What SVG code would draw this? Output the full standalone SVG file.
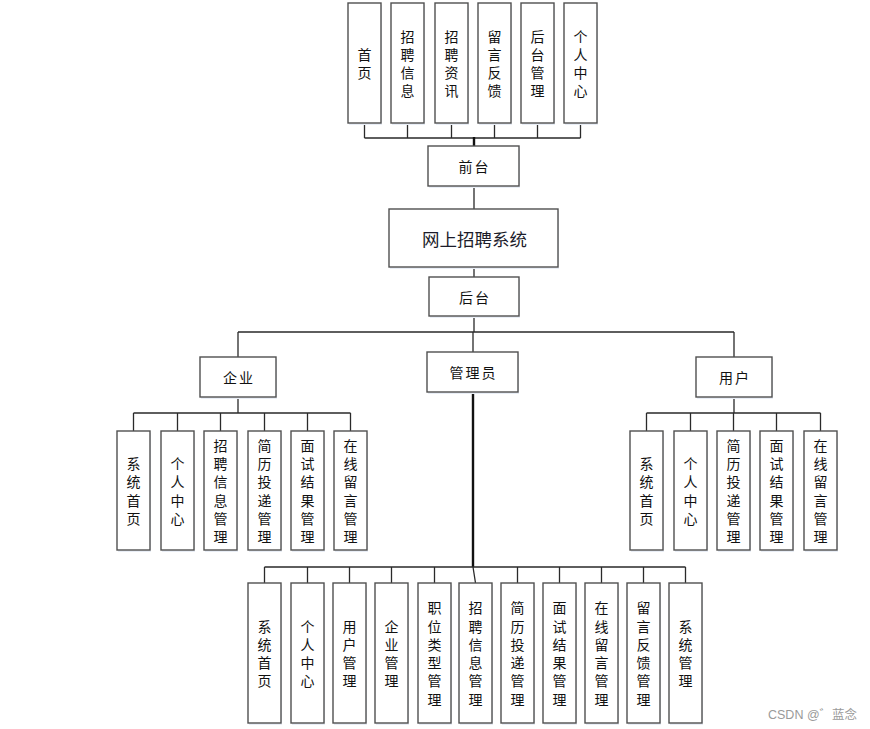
<svg xmlns="http://www.w3.org/2000/svg" width="870" height="729" viewBox="0 0 870 729">
<style>
.box{fill:#fff;stroke:#505050;stroke-width:1.4}
.sh{fill:#e9eef6}
.t{font-family:"Noto Sans CJK SC","Liberation Sans",sans-serif;font-size:14px;fill:#111;text-anchor:middle;dominant-baseline:central}
.h{letter-spacing:2px}
.ln{fill:none;stroke:#2a2a2a;stroke-width:1.3}
.thk{fill:none;stroke:#111;stroke-width:2.4}
</style>
<rect width="870" height="729" fill="#fff"/>
<g id="connectors">
<path class="ln" d="M364.5 123V138M407.5 123V138M451.5 123V138M494.5 123V138M537.5 123V138M580.5 123V138M364.5 138H580.5"/>
<path class="thk" d="M474 137V146"/>
<path class="ln" d="M474 186V209M474 267V277M474 316V332M238 332H734M238 332V357M734 332V357M473 332V352"/>
<path class="ln" d="M238 397V413M133.5 413H350.5M133.5 413V431M177.5 413V431M220.5 413V431M264.5 413V431M307.5 413V431M350.5 413V431"/>
<path class="ln" d="M734 397V413M646.5 413H820.5M646.5 413V431M690.5 413V431M733.5 413V431M776.5 413V431M820.5 413V431"/>
<path class="thk" d="M473 392V567"/>
<path class="ln" d="M264.5 567H685.5M264.5 567V583M307.5 567V583M349.5 567V583M391.5 567V583M434.5 567V583M473 567L475.5 583M517.5 567V583M559.5 567V583M601.5 567V583M643.5 567V583M685.5 567V583"/>
</g>
<g id="top-shouye"><rect class="sh" x="349" y="5" width="33" height="120"/><rect class="box" x="348" y="3" width="33" height="120"/><text class="t"><tspan x="364.5" y="53.85">首</tspan><tspan x="364.5" y="72.15">页</tspan></text></g>
<g id="top-zpxx"><rect class="sh" x="392" y="5" width="33" height="120"/><rect class="box" x="391" y="3" width="33" height="120"/><text class="t"><tspan x="407.5" y="35.55">招</tspan><tspan x="407.5" y="53.85">聘</tspan><tspan x="407.5" y="72.15">信</tspan><tspan x="407.5" y="90.45">息</tspan></text></g>
<g id="top-zpzx"><rect class="sh" x="436" y="5" width="33" height="120"/><rect class="box" x="435" y="3" width="33" height="120"/><text class="t"><tspan x="451.5" y="35.55">招</tspan><tspan x="451.5" y="53.85">聘</tspan><tspan x="451.5" y="72.15">资</tspan><tspan x="451.5" y="90.45">讯</tspan></text></g>
<g id="top-lyfk"><rect class="sh" x="479" y="5" width="33" height="120"/><rect class="box" x="478" y="3" width="33" height="120"/><text class="t"><tspan x="494.5" y="35.55">留</tspan><tspan x="494.5" y="53.85">言</tspan><tspan x="494.5" y="72.15">反</tspan><tspan x="494.5" y="90.45">馈</tspan></text></g>
<g id="top-htgl"><rect class="sh" x="522" y="5" width="33" height="120"/><rect class="box" x="521" y="3" width="33" height="120"/><text class="t"><tspan x="537.5" y="35.55">后</tspan><tspan x="537.5" y="53.85">台</tspan><tspan x="537.5" y="72.15">管</tspan><tspan x="537.5" y="90.45">理</tspan></text></g>
<g id="top-grzx"><rect class="sh" x="565" y="5" width="33" height="120"/><rect class="box" x="564" y="3" width="33" height="120"/><text class="t"><tspan x="580.5" y="35.55">个</tspan><tspan x="580.5" y="53.85">人</tspan><tspan x="580.5" y="72.15">中</tspan><tspan x="580.5" y="90.45">心</tspan></text></g>
<g id="qiantai"><rect class="sh" x="429" y="148" width="91" height="40"/><rect class="box" x="428" y="146" width="91" height="40"/><text class="t h" x="474.5" y="166">前台</text></g>
<g id="system"><rect class="sh" x="390" y="211" width="169" height="58"/><rect class="box" x="389" y="209" width="169" height="58"/><text class="t" x="474.5" y="238" style="font-size:17.5px;fill:#1c1c2a">网上招聘系统</text></g>
<g id="houtai"><rect class="sh" x="430" y="279" width="90" height="39"/><rect class="box" x="429" y="277" width="90" height="39"/><text class="t h" x="475" y="296.5">后台</text></g>
<g id="qiye"><rect class="sh" x="201" y="359" width="76" height="40"/><rect class="box" x="200" y="357" width="76" height="40"/><text class="t h" x="239" y="377">企业</text></g>
<g id="guanliyuan"><rect class="sh" x="428" y="354" width="91" height="40"/><rect class="box" x="427" y="352" width="91" height="40"/><text class="t h" x="473.5" y="372">管理员</text></g>
<g id="yonghu"><rect class="sh" x="697" y="359" width="76" height="40"/><rect class="box" x="696" y="357" width="76" height="40"/><text class="t h" x="735" y="377">用户</text></g>
<g id="qy-xtsy"><rect class="sh" x="118" y="433" width="33" height="119"/><rect class="box" x="117" y="431" width="33" height="119"/><text class="t"><tspan x="133.5" y="463">系</tspan><tspan x="133.5" y="481.3">统</tspan><tspan x="133.5" y="499.6">首</tspan><tspan x="133.5" y="517.9">页</tspan></text></g>
<g id="qy-grzx"><rect class="sh" x="162" y="433" width="33" height="119"/><rect class="box" x="161" y="431" width="33" height="119"/><text class="t"><tspan x="177.5" y="463">个</tspan><tspan x="177.5" y="481.3">人</tspan><tspan x="177.5" y="499.6">中</tspan><tspan x="177.5" y="517.9">心</tspan></text></g>
<g id="qy-zpxxgl"><rect class="sh" x="205" y="433" width="33" height="119"/><rect class="box" x="204" y="431" width="33" height="119"/><text class="t"><tspan x="220.5" y="444.75">招</tspan><tspan x="220.5" y="463.05">聘</tspan><tspan x="220.5" y="481.35">信</tspan><tspan x="220.5" y="499.65">息</tspan><tspan x="220.5" y="517.95">管</tspan><tspan x="220.5" y="536.25">理</tspan></text></g>
<g id="qy-jltdgl"><rect class="sh" x="249" y="433" width="33" height="119"/><rect class="box" x="248" y="431" width="33" height="119"/><text class="t"><tspan x="264.5" y="444.75">简</tspan><tspan x="264.5" y="463.05">历</tspan><tspan x="264.5" y="481.35">投</tspan><tspan x="264.5" y="499.65">递</tspan><tspan x="264.5" y="517.95">管</tspan><tspan x="264.5" y="536.25">理</tspan></text></g>
<g id="qy-msjggl"><rect class="sh" x="292" y="433" width="33" height="119"/><rect class="box" x="291" y="431" width="33" height="119"/><text class="t"><tspan x="307.5" y="444.75">面</tspan><tspan x="307.5" y="463.05">试</tspan><tspan x="307.5" y="481.35">结</tspan><tspan x="307.5" y="499.65">果</tspan><tspan x="307.5" y="517.95">管</tspan><tspan x="307.5" y="536.25">理</tspan></text></g>
<g id="qy-zxlygl"><rect class="sh" x="335" y="433" width="33" height="119"/><rect class="box" x="334" y="431" width="33" height="119"/><text class="t"><tspan x="350.5" y="444.75">在</tspan><tspan x="350.5" y="463.05">线</tspan><tspan x="350.5" y="481.35">留</tspan><tspan x="350.5" y="499.65">言</tspan><tspan x="350.5" y="517.95">管</tspan><tspan x="350.5" y="536.25">理</tspan></text></g>
<g id="yh-xtsy"><rect class="sh" x="631" y="433" width="33" height="119"/><rect class="box" x="630" y="431" width="33" height="119"/><text class="t"><tspan x="646.5" y="463">系</tspan><tspan x="646.5" y="481.3">统</tspan><tspan x="646.5" y="499.6">首</tspan><tspan x="646.5" y="517.9">页</tspan></text></g>
<g id="yh-grzx"><rect class="sh" x="675" y="433" width="33" height="119"/><rect class="box" x="674" y="431" width="33" height="119"/><text class="t"><tspan x="690.5" y="463">个</tspan><tspan x="690.5" y="481.3">人</tspan><tspan x="690.5" y="499.6">中</tspan><tspan x="690.5" y="517.9">心</tspan></text></g>
<g id="yh-jltdgl"><rect class="sh" x="718" y="433" width="33" height="119"/><rect class="box" x="717" y="431" width="33" height="119"/><text class="t"><tspan x="733.5" y="444.75">简</tspan><tspan x="733.5" y="463.05">历</tspan><tspan x="733.5" y="481.35">投</tspan><tspan x="733.5" y="499.65">递</tspan><tspan x="733.5" y="517.95">管</tspan><tspan x="733.5" y="536.25">理</tspan></text></g>
<g id="yh-msjggl"><rect class="sh" x="761" y="433" width="33" height="119"/><rect class="box" x="760" y="431" width="33" height="119"/><text class="t"><tspan x="776.5" y="444.75">面</tspan><tspan x="776.5" y="463.05">试</tspan><tspan x="776.5" y="481.35">结</tspan><tspan x="776.5" y="499.65">果</tspan><tspan x="776.5" y="517.95">管</tspan><tspan x="776.5" y="536.25">理</tspan></text></g>
<g id="yh-zxlygl"><rect class="sh" x="805" y="433" width="33" height="119"/><rect class="box" x="804" y="431" width="33" height="119"/><text class="t"><tspan x="820.5" y="444.75">在</tspan><tspan x="820.5" y="463.05">线</tspan><tspan x="820.5" y="481.35">留</tspan><tspan x="820.5" y="499.65">言</tspan><tspan x="820.5" y="517.95">管</tspan><tspan x="820.5" y="536.25">理</tspan></text></g>
<g id="gl-xtsy"><rect class="sh" x="249" y="585" width="33" height="140"/><rect class="box" x="248" y="583" width="33" height="140"/><text class="t"><tspan x="264.5" y="625.55">系</tspan><tspan x="264.5" y="643.85">统</tspan><tspan x="264.5" y="662.15">首</tspan><tspan x="264.5" y="680.45">页</tspan></text></g>
<g id="gl-grzx"><rect class="sh" x="292" y="585" width="33" height="140"/><rect class="box" x="291" y="583" width="33" height="140"/><text class="t"><tspan x="307.5" y="625.55">个</tspan><tspan x="307.5" y="643.85">人</tspan><tspan x="307.5" y="662.15">中</tspan><tspan x="307.5" y="680.45">心</tspan></text></g>
<g id="gl-yhgl"><rect class="sh" x="334" y="585" width="33" height="140"/><rect class="box" x="333" y="583" width="33" height="140"/><text class="t"><tspan x="349.5" y="625.55">用</tspan><tspan x="349.5" y="643.85">户</tspan><tspan x="349.5" y="662.15">管</tspan><tspan x="349.5" y="680.45">理</tspan></text></g>
<g id="gl-qygl"><rect class="sh" x="376" y="585" width="33" height="140"/><rect class="box" x="375" y="583" width="33" height="140"/><text class="t"><tspan x="391.5" y="625.55">企</tspan><tspan x="391.5" y="643.85">业</tspan><tspan x="391.5" y="662.15">管</tspan><tspan x="391.5" y="680.45">理</tspan></text></g>
<g id="gl-zwlxgl"><rect class="sh" x="419" y="585" width="33" height="140"/><rect class="box" x="418" y="583" width="33" height="140"/><text class="t"><tspan x="434.5" y="607.25">职</tspan><tspan x="434.5" y="625.55">位</tspan><tspan x="434.5" y="643.85">类</tspan><tspan x="434.5" y="662.15">型</tspan><tspan x="434.5" y="680.45">管</tspan><tspan x="434.5" y="698.75">理</tspan></text></g>
<g id="gl-zpxxgl"><rect class="sh" x="460" y="585" width="33" height="140"/><rect class="box" x="459" y="583" width="33" height="140"/><text class="t"><tspan x="475.5" y="607.25">招</tspan><tspan x="475.5" y="625.55">聘</tspan><tspan x="475.5" y="643.85">信</tspan><tspan x="475.5" y="662.15">息</tspan><tspan x="475.5" y="680.45">管</tspan><tspan x="475.5" y="698.75">理</tspan></text></g>
<g id="gl-jltdgl"><rect class="sh" x="502" y="585" width="33" height="140"/><rect class="box" x="501" y="583" width="33" height="140"/><text class="t"><tspan x="517.5" y="607.25">简</tspan><tspan x="517.5" y="625.55">历</tspan><tspan x="517.5" y="643.85">投</tspan><tspan x="517.5" y="662.15">递</tspan><tspan x="517.5" y="680.45">管</tspan><tspan x="517.5" y="698.75">理</tspan></text></g>
<g id="gl-msjggl"><rect class="sh" x="544" y="585" width="33" height="140"/><rect class="box" x="543" y="583" width="33" height="140"/><text class="t"><tspan x="559.5" y="607.25">面</tspan><tspan x="559.5" y="625.55">试</tspan><tspan x="559.5" y="643.85">结</tspan><tspan x="559.5" y="662.15">果</tspan><tspan x="559.5" y="680.45">管</tspan><tspan x="559.5" y="698.75">理</tspan></text></g>
<g id="gl-zxlygl"><rect class="sh" x="586" y="585" width="33" height="140"/><rect class="box" x="585" y="583" width="33" height="140"/><text class="t"><tspan x="601.5" y="607.25">在</tspan><tspan x="601.5" y="625.55">线</tspan><tspan x="601.5" y="643.85">留</tspan><tspan x="601.5" y="662.15">言</tspan><tspan x="601.5" y="680.45">管</tspan><tspan x="601.5" y="698.75">理</tspan></text></g>
<g id="gl-lyfkgl"><rect class="sh" x="628" y="585" width="33" height="140"/><rect class="box" x="627" y="583" width="33" height="140"/><text class="t"><tspan x="643.5" y="607.25">留</tspan><tspan x="643.5" y="625.55">言</tspan><tspan x="643.5" y="643.85">反</tspan><tspan x="643.5" y="662.15">馈</tspan><tspan x="643.5" y="680.45">管</tspan><tspan x="643.5" y="698.75">理</tspan></text></g>
<g id="gl-xtgl"><rect class="sh" x="670" y="585" width="33" height="140"/><rect class="box" x="669" y="583" width="33" height="140"/><text class="t"><tspan x="685.5" y="625.55">系</tspan><tspan x="685.5" y="643.85">统</tspan><tspan x="685.5" y="662.15">管</tspan><tspan x="685.5" y="680.45">理</tspan></text></g>
<text x="768" y="719" style="font-family:'Liberation Sans','Noto Sans CJK SC',sans-serif;font-size:12.5px;fill:#9a9a9a">CSDN @゛蓝念</text>
</svg>
